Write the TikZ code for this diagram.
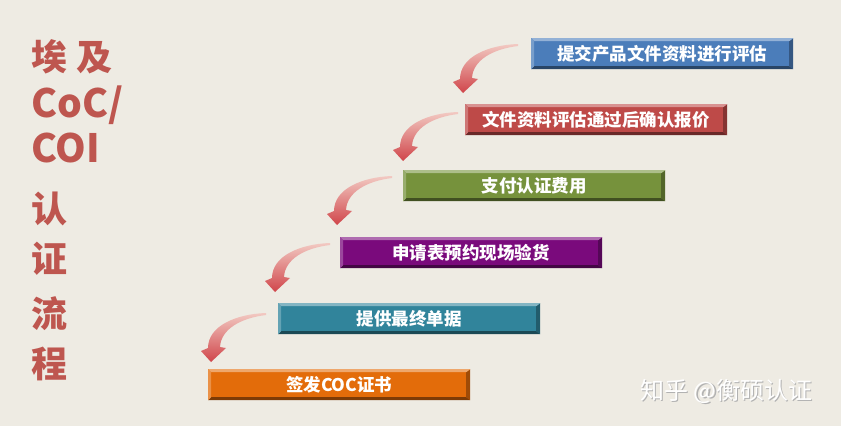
\documentclass[tikz,border=0pt]{standalone}
\usepackage{fontspec}
\newfontfamily\cjk{Noto Sans CJK SC}
\definecolor{bgc}{HTML}{EEEBE3}
\definecolor{titlec}{HTML}{BE564F}
\definecolor{c1}{HTML}{4B7DBA}
\definecolor{c2}{HTML}{BE4A48}
\definecolor{c3}{HTML}{76923C}
\definecolor{c4}{HTML}{7A0A7C}
\definecolor{c5}{HTML}{31849B}
\definecolor{c6}{HTML}{E36C0A}
\definecolor{arrhead}{HTML}{D0454A}
\definecolor{arrtail}{HTML}{F2C9C2}
\tikzset{
  stepbox/.style={rectangle, anchor=north west, minimum width=262pt, minimum height=31pt,
    inner sep=0pt, text=white, font=\cjk\bfseries\fontsize{17.5}{17.5}\selectfont,
    fill=#1,
    path picture={
      \fill[#1!55!black] (path picture bounding box.south west) -- (path picture bounding box.south east)
        -- ([xshift=-4pt,yshift=3pt]path picture bounding box.south east)
        -- ([xshift=3pt,yshift=3pt]path picture bounding box.south west) -- cycle;
      \fill[#1!70!black] (path picture bounding box.south east) -- (path picture bounding box.north east)
        -- ([xshift=-4pt,yshift=-3pt]path picture bounding box.north east)
        -- ([xshift=-4pt,yshift=3pt]path picture bounding box.south east) -- cycle;
      \fill[#1!60!white] (path picture bounding box.north west) -- (path picture bounding box.north east)
        -- ([xshift=-4pt,yshift=-3pt]path picture bounding box.north east)
        -- ([xshift=3pt,yshift=-3pt]path picture bounding box.north west) -- cycle;
      \fill[#1!75!white] (path picture bounding box.north west) -- (path picture bounding box.south west)
        -- ([xshift=3pt,yshift=3pt]path picture bounding box.south west)
        -- ([xshift=3pt,yshift=-3pt]path picture bounding box.north west) -- cycle;
    }},
  titletext/.style={anchor=base west, inner sep=0pt, text=titlec,
    font=\cjk\bfseries\fontsize{36}{36}\selectfont},
  latintitle/.style={titletext, font=\cjk\bfseries\fontsize{39}{39}\selectfont},
  bendarrow/.pic={
    \shade[left color=arrtail, right color=arrhead, shading angle=0]
      (-3,-14) .. controls (-3,-36) and (25,-48) .. (55,-49)
      -- (55,-47) .. controls (30,-44) and (10,-33) .. (9,-15)
      -- (15,-14) -- (0,0) -- (-10,-11) -- cycle;
  }
}
\begin{document}
\begin{tikzpicture}[x=1pt,y=-1pt]
\fill[bgc] (0,0) rectangle (841,426);
\useasboundingbox (0,0) rectangle (841,426);

% title
\node[titletext] (t1) at (31,70) {埃\hspace{9pt}及};
\node[latintitle] (t2) at (31,117) {CoC/};
\node[latintitle] (t3) at (31,162) {COI};
\node[titletext] (t4) at (31,222) {认};
\node[titletext] (t5) at (31,272) {证};
\node[titletext] (t6) at (31,327) {流};
\node[titletext] (t7) at (31,377) {程};

% steps
\node[stepbox=c1] (b1) at (531,38) {提交产品文件资料进行评估};
\node[stepbox=c2] (b2) at (465,104) {文件资料评估通过后确认报价};
\node[stepbox=c3] (b3) at (403,170) {支付认证费用};
\node[stepbox=c4] (b4) at (340,237) {申请表预约现场验货};
\node[stepbox=c5] (b5) at (278,303) {提供最终单据};
\node[stepbox=c6] (b6) at (208,369) {签发COC证书};

% curved arrows
\pic at ([xshift=-2pt,yshift=11pt]b2.north west) {bendarrow};
\pic at ([yshift=9pt]b3.north west) {bendarrow};
\pic at ([xshift=-3pt,yshift=12pt]b4.north west) {bendarrow};
\pic at ([xshift=-3pt,yshift=11pt]b5.north west) {bendarrow};
\pic at ([xshift=3pt,yshift=7pt]b6.north west) {bendarrow};

% watermark
\node[anchor=base west, inner sep=0pt, text=black!30, font=\cjk\fontsize{24}{24}\selectfont] (wm0) at (641.5,400.5) {知乎 @衡硕认证};
\node[anchor=base west, inner sep=0pt, text=white, font=\cjk\fontsize{24}{24}\selectfont] (wm) at (640,399) {知乎 @衡硕认证};
\end{tikzpicture}
\end{document}
